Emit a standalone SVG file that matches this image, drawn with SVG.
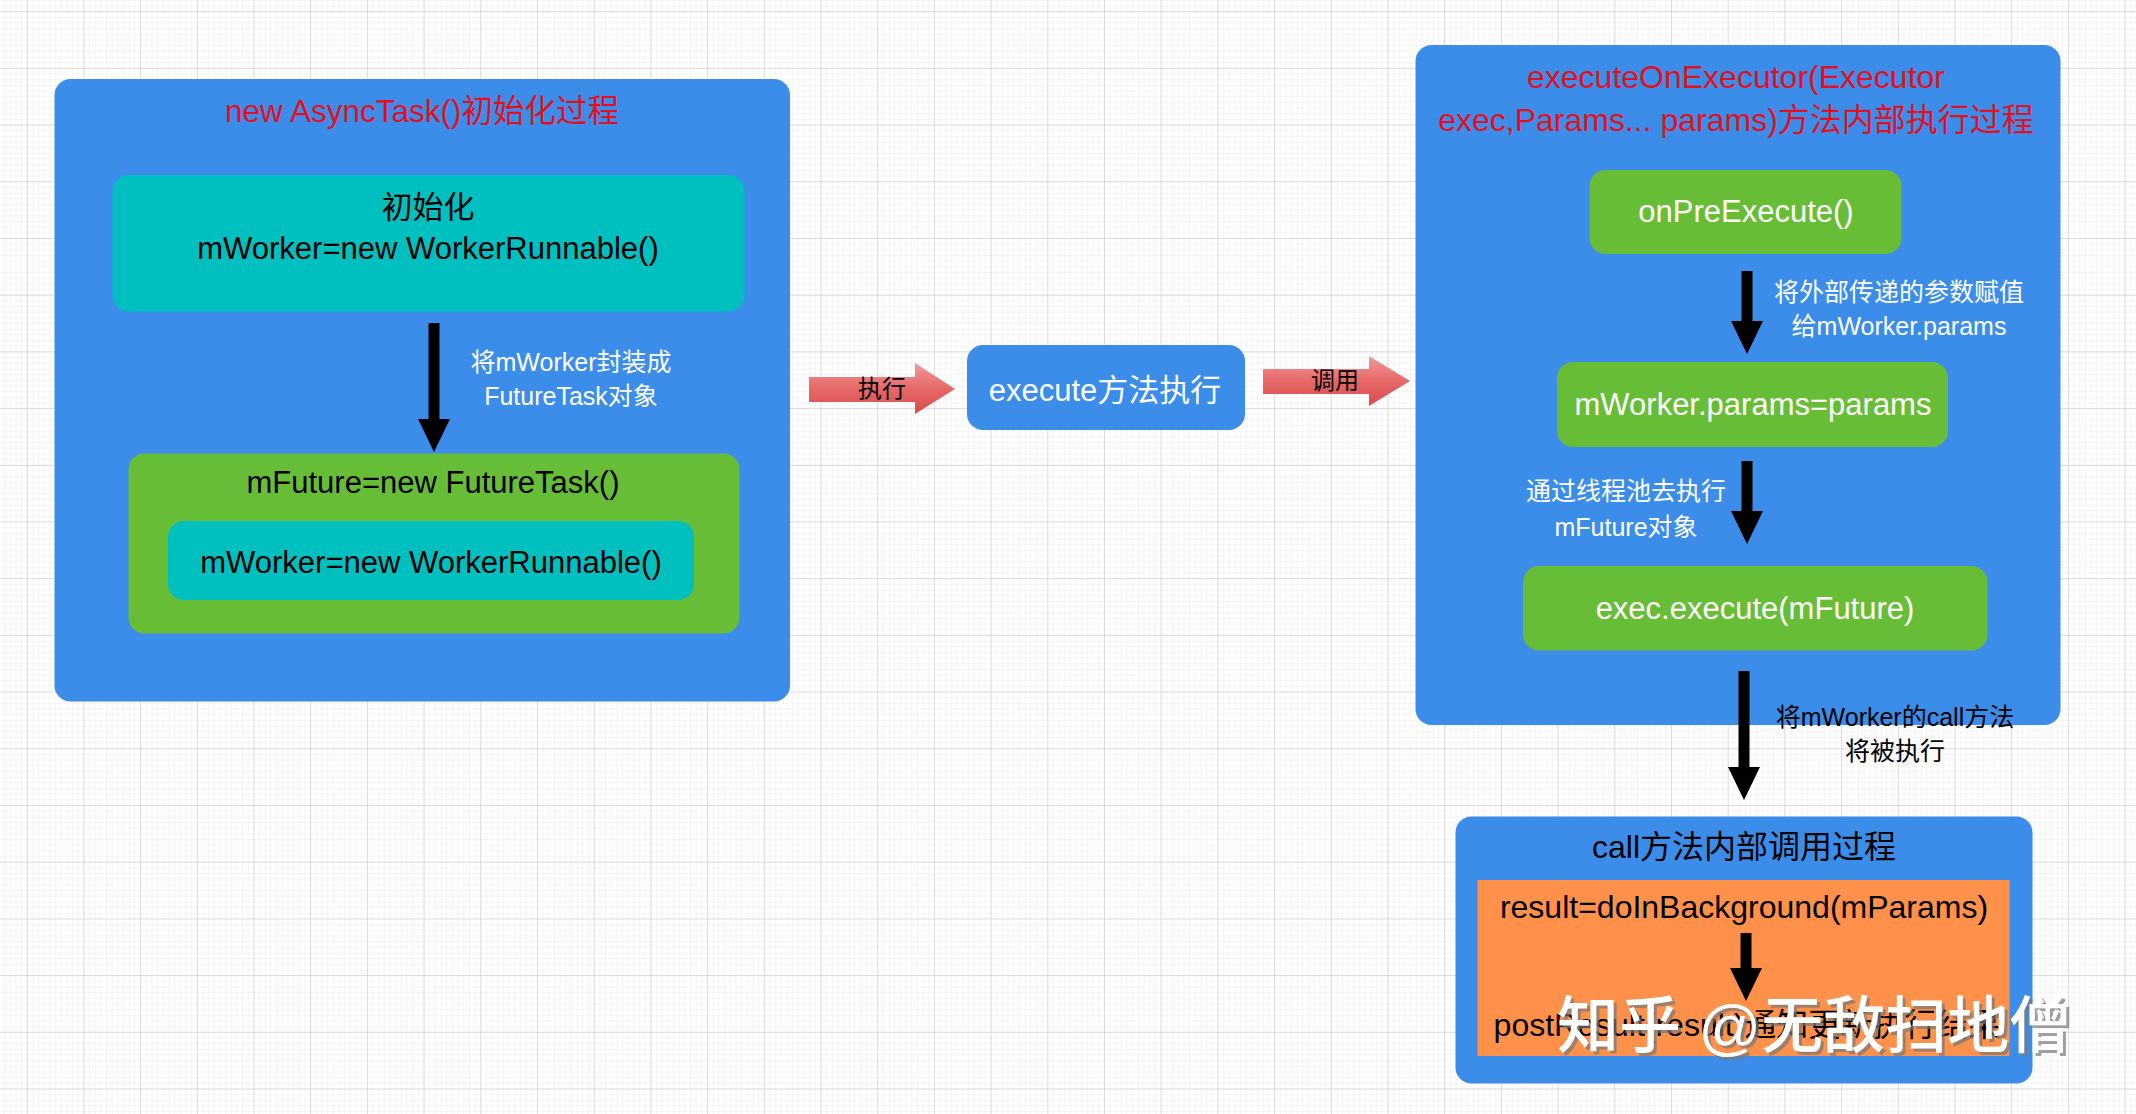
<svg xmlns="http://www.w3.org/2000/svg" width="2136" height="1114" viewBox="0 0 2136 1114">
<style>
text{font-family:"Liberation Sans","Noto Sans CJK SC",sans-serif;text-anchor:middle}
.title{fill:#e3101f;font-size:31.5px}
.rtitle{fill:#e3101f;font-size:32px}
.blk{fill:#000;font-size:31px}
.blk2{fill:#000;font-size:32px}
.wht{fill:#fff;font-size:31px}
.lblw{fill:#fff;font-size:25px}
.lblb{fill:#000;font-size:25px}
.blue{fill:#3b8de9}
.teal{fill:#00bfbf}
.green{fill:#68bd36}
.orange{fill:#ff914a}
.arrow{stroke:#000;stroke-width:11;fill:none;marker-end:url(#head)}
.red{fill:url(#redgrad)}
</style>
<defs>
<pattern id="minor" patternUnits="userSpaceOnUse" x="26.7" y="11.2" width="5.67" height="5.67">
<path d="M5.67 0H0V5.67" fill="none" stroke="#e2e2e2" stroke-width="0.7"/>
</pattern>
<pattern id="major" patternUnits="userSpaceOnUse" x="26.7" y="11.2" width="56.7" height="56.7">
<path d="M56.7 0H0V56.7" fill="none" stroke="#c4c4c4" stroke-width="1"/>
</pattern>
<marker id="head" markerUnits="userSpaceOnUse" viewBox="0 -16 33 32" refX="0" refY="0" markerWidth="33" markerHeight="32" orient="auto">
<path d="M0,-16L33,0L0,16z" fill="#000"/>
</marker>
<linearGradient id="redgrad" x1="0" y1="0" x2="0" y2="1">
<stop offset="0" stop-color="#f29a9a"/>
<stop offset="0.5" stop-color="#e66868"/>
<stop offset="1" stop-color="#d84c4c"/>
</linearGradient>
</defs>
<rect width="2136" height="1114" fill="#fff"/>
<rect width="2136" height="1114" fill="url(#minor)"/>
<rect width="2136" height="1114" fill="url(#major)"/>

<g id="init-group">
<rect class="blue" x="54.5" y="79" width="735.5" height="622.5" rx="16"/>
<text class="title" x="422" y="122">new AsyncTask()初始化过程</text>
</g>
<g id="init-node">
<rect class="teal" x="112.5" y="175" width="632" height="136.5" rx="16"/>
<text class="blk" x="428" y="218">初始化</text>
<text class="blk" x="428" y="259">mWorker=new WorkerRunnable()</text>
</g>
<g id="future-node">
<rect class="green" x="128.5" y="453.5" width="611" height="180" rx="16"/>
<text class="blk" x="433" y="493">mFuture=new FutureTask()</text>
</g>
<g id="worker-node">
<rect class="teal" x="168" y="521" width="526" height="79" rx="16"/>
<text class="blk" x="431" y="573">mWorker=new WorkerRunnable()</text>
</g>

<g id="execute-node">
<rect class="blue" x="967" y="345" width="278" height="85" rx="16"/>
<text class="wht" x="1105" y="401">execute方法执行</text>
</g>

<g id="executor-group">
<rect class="blue" x="1415.5" y="45" width="645" height="680" rx="16"/>
<text class="rtitle" x="1736" y="88">executeOnExecutor(Executor</text>
<text class="rtitle" x="1736" y="131">exec,Params... params)方法内部执行过程</text>
</g>
<g id="preexecute-node">
<rect class="green" x="1589.5" y="170" width="312" height="84" rx="16"/>
<text class="wht" x="1746" y="222">onPreExecute()</text>
</g>
<g id="params-node">
<rect class="green" x="1557" y="362" width="391" height="85" rx="16"/>
<text class="wht" x="1753" y="415">mWorker.params=params</text>
</g>
<g id="exec-node">
<rect class="green" x="1523" y="566" width="464.5" height="84.5" rx="16"/>
<text class="wht" x="1755" y="619">exec.execute(mFuture)</text>
</g>

<g id="call-group">
<rect class="blue" x="1455.5" y="816.5" width="577" height="267" rx="16"/>
<text class="blk2" x="1744" y="858">call方法内部调用过程</text>
</g>
<g id="call-body">
<rect class="orange" x="1477.5" y="880" width="532" height="176"/>
<text class="blk2" x="1744" y="918">result=doInBackground(mParams)</text>
<text class="blk2" x="1747" y="1036">postResult(result)通知更新执行结果</text>
</g>

<g id="connectors">
<path class="red" d="M809,377H915V363L955,389L915,414V402H809Z"/>
<text class="lblb" x="882" y="397" style="font-size:24px">执行</text>
<path class="red" d="M1263,369H1369V356L1410,381L1369,406V394H1263Z"/>
<text class="lblb" x="1335" y="389" style="font-size:24px">调用</text>

<path class="arrow" d="M434,323V419"/>
<text class="lblw" x="571" y="371">将mWorker封装成</text>
<text class="lblw" x="571" y="405">FutureTask对象</text>

<path class="arrow" d="M1747,271V321"/>
<text class="lblw" x="1899" y="301">将外部传递的参数赋值</text>
<text class="lblw" x="1899" y="335">给mWorker.params</text>

<path class="arrow" d="M1747,461V511"/>
<text class="lblw" x="1626" y="500">通过线程池去执行</text>
<text class="lblw" x="1626" y="536">mFuture对象</text>

<path class="arrow" d="M1744,671V767"/>
<text class="lblb" x="1895" y="726">将mWorker的call方法</text>
<text class="lblb" x="1895" y="760">将被执行</text>

<path class="arrow" d="M1746,933V968"/>
</g>

<g id="watermark" style="font-size:62px;font-family:'Noto Sans CJK SC',sans-serif;font-weight:500">
<text x="1560" y="1051" fill="#777" fill-opacity="0.7" style="text-anchor:start">知乎 @无敌扫地僧</text>
<text x="1557" y="1048" fill="#fff" style="text-anchor:start">知乎 @无敌扫地僧</text>
</g>
</svg>
